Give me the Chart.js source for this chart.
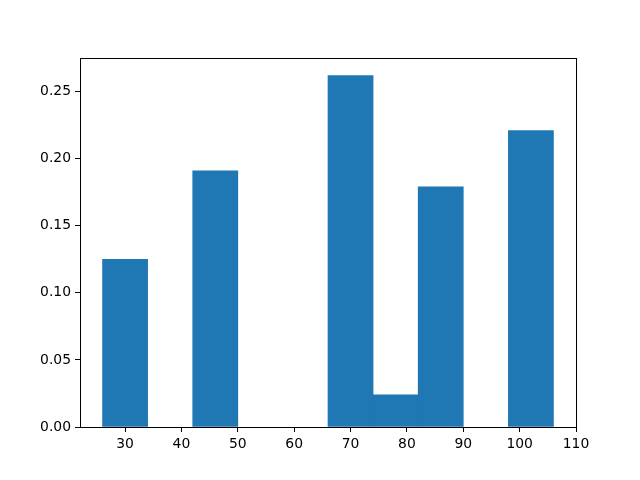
<!DOCTYPE html>
<html lang="en">
<head>
  <meta charset="UTF-8" />
  <title>Histogram</title>
  <style>
    body { margin: 0; background: #fff; }
    #wrap { width: 640px; height: 480px; }
  </style>
  <script src="https://cdn.jsdelivr.net/npm/chart.js"></script>
</head>
<body>
  <div id="wrap"><canvas id="histChart" width="640" height="480"></canvas></div>

  <script>
    // bin centres (bins are 8 wide, from 26 to 106) and heights
    const binCenters = [30, 38, 46, 54, 62, 70, 78, 86, 94, 102];
    const binHeights = [0.125, 0, 0.191, 0, 0, 0.262, 0.024, 0.179, 0, 0.221];

    // axis ticks
    const xTicks = [30, 40, 50, 60, 70, 80, 90, 100, 110];
    const yTicks = [0, 0.05, 0.10, 0.15, 0.20, 0.25];

    const tickFont = { family: 'DejaVu Sans', size: 13.9 };

    // full box around the plot area, like matplotlib spines
    const frame = {
      id: 'frame',
      afterDraw(chart) {
        const a = chart.chartArea;
        const c = chart.ctx;
        c.save();
        c.strokeStyle = '#000';
        c.lineWidth = 1;
        c.strokeRect(Math.round(a.left) + 0.5, Math.round(a.top) + 0.5,
                     Math.round(a.right - a.left), Math.round(a.bottom - a.top));
        c.restore();
      }
    };

    const ctx = document.getElementById('histChart').getContext('2d');
    new Chart(ctx, {
      type: 'bar',
      data: {
        datasets: [{
          data: binCenters.map((x, i) => ({ x: x, y: binHeights[i] })),
          // empty bins draw nothing
          backgroundColor: c => (c.raw && c.raw.y === 0) ? 'rgba(0,0,0,0)' : '#1f77b4',
          borderWidth: 0,
          barPercentage: 1,
          categoryPercentage: 1
        }]
      },
      options: {
        responsive: false,
        animation: false,
        layout: { padding: { top: 58, right: 64, bottom: 0, left: 0 } },
        plugins: { legend: { display: false }, tooltip: { enabled: false } },
        scales: {
          x: {
            type: 'linear',
            min: 22,
            max: 110,
            offset: false,
            grid: { display: true, drawOnChartArea: false, offset: false, tickLength: 5, tickColor: '#000' },
            border: { color: '#000', width: 1 },
            ticks: { color: '#000', font: tickFont, padding: 4, maxRotation: 0 },
            afterBuildTicks: s => { s.ticks = xTicks.map(v => ({ value: v })); },
            afterFit: s => { s.height = 53; }
          },
          y: {
            min: 0,
            max: 0.2751,
            grid: { display: true, drawOnChartArea: false, tickLength: 5, tickColor: '#000' },
            border: { color: '#000', width: 1 },
            ticks: { color: '#000', font: tickFont, padding: 4, callback: v => v.toFixed(2) },
            afterBuildTicks: s => { s.ticks = yTicks.map(v => ({ value: v })); },
            afterFit: s => { s.width = 80; }
          }
        }
      },
      plugins: [frame]
    });
  </script>
</body>
</html>
